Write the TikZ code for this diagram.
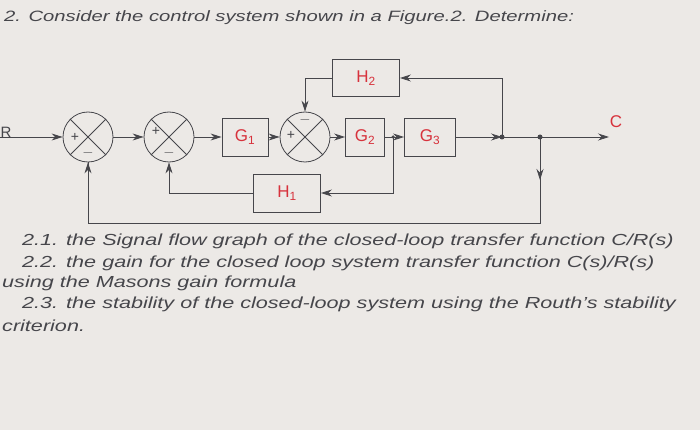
\documentclass[tikz,border=0pt]{standalone}
\usepackage{fontspec}
\usepackage{graphicx}
\setmainfont{Liberation Sans}
\usetikzlibrary{arrows.meta,calc}
\definecolor{paper}{RGB}{236,233,230}
\definecolor{ink}{RGB}{70,70,75}
\definecolor{redink}{RGB}{215,50,60}
\newcommand{\wtxt}[1]{\scalebox{1.35}[1]{#1}}
\tikzset{
 sumj/.style={circle,draw=ink,line width=0.8pt,minimum size=50pt,inner sep=0pt},
 blk/.style={draw=ink,line width=0.9pt,minimum height=38pt,text=redink,font=\fontsize{17}{17}\selectfont},
 sig/.style={draw=ink,line width=0.8pt,-{Stealth[length=11pt,width=7pt]}},
 wire/.style={draw=ink,line width=0.8pt},
 sgn/.style={font=\fontsize{14}{14}\selectfont,text=ink},
 txt/.style={anchor=west,text=ink,inner sep=0pt,font=\fontsize{16}{16}\selectfont\itshape},
 dot/.style={circle,fill=ink,inner sep=0pt,minimum size=5pt}
}
\begin{document}
\begin{tikzpicture}[x=1pt,y=-1pt]
\fill[paper] (0,0) rectangle (700,430);
\useasboundingbox (0,0) rectangle (700,430);
\node[sumj] (s1) at (88,137) {};
\node[sumj] (s2) at (169,137) {};
\node[sumj] (s3) at (305,137) {};
\foreach \s in {s1,s2,s3}{\draw[wire] (\s.north west)--(\s.south east) (\s.north east)--(\s.south west);}
\node[blk,minimum width=46pt] (g1) at (245,137) {G\textsubscript{1}};
\node[blk,minimum width=39pt] (g2) at (365,137) {G\textsubscript{2}};
\node[blk,minimum width=51pt] (g3) at (430,137) {G\textsubscript{3}};
\node[blk,minimum width=67pt,minimum height=37pt] (h2) at (366,78) {H\textsubscript{2}};
\node[blk,minimum width=67pt,minimum height=38pt] (h1) at (287,193) {H\textsubscript{1}};
\node[text=ink,font=\fontsize{15}{15}\selectfont] (r) at (6,132) {R};
\node[text=redink,font=\fontsize{17}{17}\selectfont] (c) at (616,122) {C};
\coordinate (rin) at (0,137);
\coordinate (cout) at (609,137);
\coordinate (p1) at (502,137);
\coordinate (p2) at (540,137);
\coordinate (p0) at (393,137);
\coordinate (hb) at (540,223);
\draw[sig] (rin)--(s1);
\draw[sig] (s1)--(s2);
\draw[sig] (s2)--(g1);
\draw[sig] (g1)--(s3);
\draw[sig] (s3)--(g2);
\draw[sig] (g2)--(g3);
\draw[sig] (g3)--(p1);
\draw[sig] (p1)--(cout);
\draw[sig] (p1)|-(h2);
\draw[sig] (h2)-|(s3);
\draw[sig] (p0)|-(h1);
\draw[sig] (h1)-|(s2);
\draw[sig] (p2)--($(p2)!0.5!(hb)$);
\draw[wire] ($(p2)!0.45!(hb)$)--(hb)-|(s1.south);
\draw[sig] (88,200)--(s1);
\node[dot] (d1) at (p1) {};
\node[dot] (d2) at (p2) {};
\node[dot,minimum size=3.5pt] (d0) at (p0) {};
\node[sgn] at (75,137) {+};
\node[sgn] at (88,153) {$-$};
\node[sgn] at (156,131) {+};
\node[sgn] at (169,153) {$-$};
\node[sgn] at (291,135) {+};
\node[sgn] at (305,120) {$-$};
\node[txt,font=\fontsize{15}{15}\selectfont\itshape] (t0) at (4,18) {\wtxt{2. Consider the control system shown in a Figure.2. Determine:}};
\node[txt] (t1) at (22,241) {\wtxt{2.1. the Signal flow graph of the closed-loop transfer function C/R(s)}};
\node[txt] (t2) at (22,263) {\wtxt{2.2. the gain for the closed loop system transfer function C(s)/R(s)}};
\node[txt] (t3) at (2,283) {\wtxt{using the Masons gain formula}};
\node[txt] (t4) at (22,304) {\wtxt{2.3. the stability of the closed-loop system using the Routh's stability}};
\node[txt] (t5) at (2,326) {\wtxt{criterion.}};
\end{tikzpicture}
\end{document}
